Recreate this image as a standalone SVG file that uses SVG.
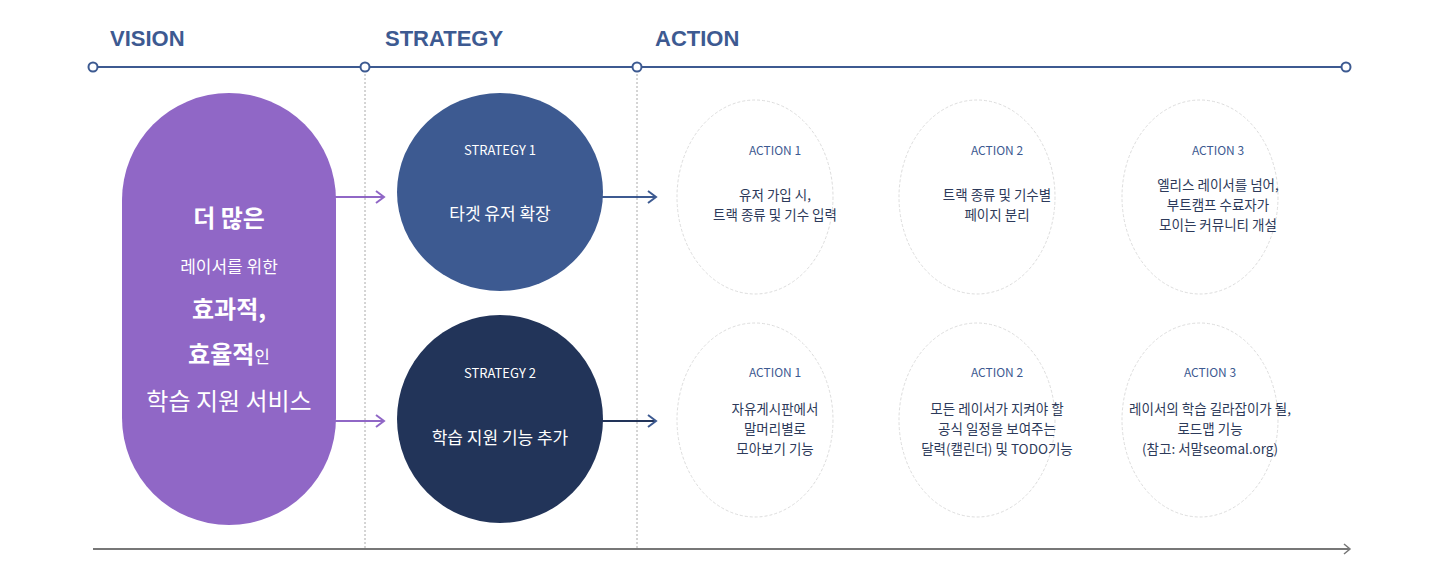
<svg xmlns="http://www.w3.org/2000/svg" width="1440" height="586" viewBox="0 0 1440 586">
<style>
text{font-family:"Noto Sans CJK KR","Noto Sans",sans-serif;text-anchor:middle}
.h{font-family:"Liberation Sans",Arial,sans-serif;font-weight:bold;font-size:22px;fill:#3d5a91;text-anchor:start}
.dot{fill:#fff;stroke:#3d5a91;stroke-width:2}
.act{fill:#fff;stroke:#ddd;stroke-width:1;stroke-dasharray:3 2}
.al{font-size:12px;fill:#3d5a91}
.at{font-size:13.5px;fill:#2d3a5a}
.w{fill:#fff}
</style>
<defs>
<marker id="ap" markerWidth="12" markerHeight="14" refX="10" refY="7" orient="auto" markerUnits="userSpaceOnUse"><path d="M2,1 L10,7 L2,13" fill="none" stroke="#9067c6" stroke-width="2"/></marker>
<marker id="an" markerWidth="12" markerHeight="14" refX="10" refY="7" orient="auto" markerUnits="userSpaceOnUse"><path d="M2,1 L10,7 L2,13" fill="none" stroke="#3d5a91" stroke-width="2"/></marker>
<marker id="ag" markerWidth="10" markerHeight="12" refX="8" refY="6" orient="auto" markerUnits="userSpaceOnUse"><path d="M2,1 L8,6 L2,11" fill="none" stroke="#777" stroke-width="1.5"/></marker>
</defs>
<g id="header">
<text class="h" x="110" y="46">VISION</text>
<text class="h" x="385" y="46">STRATEGY</text>
<text class="h" x="655" y="46">ACTION</text>
<line x1="93" y1="67" x2="1346" y2="67" stroke="#3d5a91" stroke-width="2"/>
<circle class="dot" cx="93" cy="67" r="4.5"/><circle class="dot" cx="365" cy="67" r="4.5"/><circle class="dot" cx="637" cy="67" r="4.5"/><circle class="dot" cx="1346" cy="67" r="4.5"/>
<line x1="365" y1="74" x2="365" y2="548" stroke="#aaa" stroke-dasharray="2 2"/>
<line x1="637" y1="74" x2="637" y2="548" stroke="#aaa" stroke-dasharray="2 2"/>
</g>
<g id="vision">
<rect x="122" y="93" width="214" height="432" rx="107" fill="#9067c6"/>
<text class="w" x="229" y="227" font-size="24" font-weight="bold">더 많은</text>
<text class="w" x="229" y="273" font-size="17">레이서를 위한</text>
<text class="w" x="229" y="318" font-size="24" font-weight="bold">효과적,</text>
<text class="w" x="229" y="363"><tspan font-size="24" font-weight="bold">효율적</tspan><tspan font-size="17">인</tspan></text>
<text class="w" x="229" y="410" font-size="24">학습 지원 서비스</text>
</g>
<g id="strategy1">
<ellipse cx="500" cy="192" rx="103" ry="99" fill="#3d5a91"/>
<text class="w" x="500" y="155" font-size="13">STRATEGY 1</text>
<text class="w" x="500" y="220" font-size="17">타겟 유저 확장</text>
</g>
<g id="strategy2">
<ellipse cx="500" cy="419" rx="103" ry="104" fill="#223459"/>
<text class="w" x="500" y="378" font-size="13">STRATEGY 2</text>
<text class="w" x="500" y="444" font-size="17">학습 지원 기능 추가</text>
</g>
<g id="a11"><ellipse class="act" cx="755" cy="197" rx="78" ry="97"/><text class="al" x="775" y="155">ACTION 1</text><text class="at" x="775" y="200">유저 가입 시,</text><text class="at" x="775" y="220">트랙 종류 및 기수 입력</text></g>
<g id="a12"><ellipse class="act" cx="977" cy="197" rx="78" ry="97"/><text class="al" x="997" y="155">ACTION 2</text><text class="at" x="997" y="200">트랙 종류 및 기수별</text><text class="at" x="997" y="220">페이지 분리</text></g>
<g id="a13"><ellipse class="act" cx="1200" cy="197" rx="78" ry="97"/><text class="al" x="1218" y="155">ACTION 3</text><text class="at" x="1218" y="190">엘리스 레이서를 넘어,</text><text class="at" x="1218" y="210">부트캠프 수료자가</text><text class="at" x="1218" y="230">모이는 커뮤니티 개설</text></g>
<g id="a21"><ellipse class="act" cx="755" cy="420" rx="78" ry="97"/><text class="al" x="775" y="377">ACTION 1</text><text class="at" x="775" y="414">자유게시판에서</text><text class="at" x="775" y="434">말머리별로</text><text class="at" x="775" y="454">모아보기 기능</text></g>
<g id="a22"><ellipse class="act" cx="977" cy="420" rx="78" ry="97"/><text class="al" x="997" y="377">ACTION 2</text><text class="at" x="997" y="414">모든 레이서가 지켜야 할</text><text class="at" x="997" y="434">공식 일정을 보여주는</text><text class="at" x="997" y="454">달력(캘린더) 및 TODO기능</text></g>
<g id="a23"><ellipse class="act" cx="1200" cy="420" rx="78" ry="97"/><text class="al" x="1210" y="377">ACTION 3</text><text class="at" x="1210" y="414">레이서의 학습 길라잡이가 될,</text><text class="at" x="1210" y="434">로드맵 기능</text><text class="at" x="1210" y="454">(참고: 서말seomal.org)</text></g>
<g id="connectors" fill="none">
<line x1="314" y1="197" x2="384" y2="197" stroke="#9067c6" stroke-width="2" marker-end="url(#ap)"/>
<line x1="314" y1="421" x2="384" y2="421" stroke="#9067c6" stroke-width="2" marker-end="url(#ap)"/>
<line x1="588" y1="197" x2="656" y2="197" stroke="#3d5a91" stroke-width="2" marker-end="url(#an)"/>
<line x1="588" y1="421" x2="656" y2="421" stroke="#223459" stroke-width="2" marker-end="url(#an)"/>
<line x1="93" y1="549" x2="1350" y2="549" stroke="#777" stroke-width="2" marker-end="url(#ag)"/>
</g>
</svg>
